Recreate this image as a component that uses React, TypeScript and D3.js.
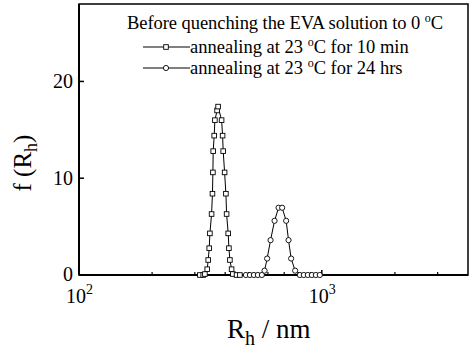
import React from "react";
import * as d3 from "d3";

// 10 min annealing (squares)
const squareR = [314.7, 324.8, 330, 337.3, 340.5, 343.8, 346, 351.6, 354.5, 356, 357, 360.4, 362.8, 370.4, 374, 386.6, 390.3, 392.5, 397.8, 402.7, 405.4, 411.6, 414.4, 418.3, 425, 430.2, 445.6, 459.8];
const squareF = [0, 0, 0.1, 0.6, 1.55, 2.77, 4.3, 6.3, 8.4, 10.6, 12.8, 14.4, 16.0, 17.0, 17.4, 16.0, 14.4, 12.8, 10.6, 8.4, 6.3, 4.3, 2.77, 1.55, 0.6, 0.1, 0, 0];

// 24 hrs annealing (circles)
const circleR = [486.7, 505.6, 525.1, 545.3, 566.4, 581, 595.5, 615, 638.8, 663.5, 686.5, 713, 729.4, 747.6, 776.4, 812, 843, 876, 910, 945, 981];
const circleF = [0, 0, 0, 0, 0, 0.45, 1.7, 3.6, 5.6, 6.95, 6.95, 5.6, 3.6, 1.7, 0.45, 0, 0, 0, 0, 0, 0];

const yTicks = [0, 10, 20];
const xMajor = [100, 1000];
const xMinor = [200, 300, 400, 500, 600, 700, 800, 900, 2000, 3000];

const FONT = "Liberation Serif, Times New Roman, serif";

export default function App() {
  const width = 474;
  const height = 353;
  const margin = { top: 4, right: 6, bottom: 78, left: 79 };

  const x = d3
    .scaleLog()
    .domain([100, 4000])
    .range([margin.left, width - margin.right]);
  const y = d3
    .scaleLinear()
    .domain([0, 28])
    .range([height - margin.bottom, margin.top]);

  const line = d3
    .line<[number, number]>()
    .x((d) => x(d[0]))
    .y((d) => y(d[1]));

  const squares: [number, number][] = squareR.map((r, i) => [r, squareF[i]]);
  const circles: [number, number][] = circleR.map((r, i) => [r, circleF[i]]);

  const x0 = margin.left;
  const x1 = width - margin.right;
  const y0 = height - margin.bottom;
  const y1 = margin.top;
  const txt = { fontFamily: FONT };

  return (
    <svg
      width={width}
      height={height}
      style={{ position: "absolute", left: 0, top: 0, background: "white", fontFamily: FONT }}
    >
      {/* frame */}
      <rect x={x0} y={y1} width={x1 - x0} height={y0 - y1} fill="none" stroke="black" strokeWidth={1.5} />
      <line x1={x0} x2={x1} y1={y0} y2={y0} stroke="black" strokeWidth={2} />
      <line x1={x0} x2={x0} y1={y1} y2={y0} stroke="black" strokeWidth={2} />

      {/* y ticks */}
      {yTicks.map((t) => (
        <g key={t}>
          {t > 0 && <line x1={x0} x2={x0 + 5} y1={y(t)} y2={y(t)} stroke="black" strokeWidth={1.5} />}
          <text style={txt} x={x0 - 6} y={t === 0 ? y(t) - 1 : y(t)} dy="0.34em" textAnchor="end" fontSize={20}>
            {t}
          </text>
        </g>
      ))}

      {/* x ticks */}
      {xMajor.map((t) => (
        <g key={t}>
          <line x1={x(t)} x2={x(t)} y1={y0} y2={y0 - 5} stroke="black" strokeWidth={1.5} />
          <text style={txt} x={x(t) - 13} y={y0 + 28} fontSize={20}>
            {`10`}
            <tspan dy={-9} fontSize={14}>
              {Math.round(Math.log10(t))}
            </tspan>
          </text>
        </g>
      ))}
      {xMinor.map((t) => (
        <line key={t} x1={x(t)} x2={x(t)} y1={y0} y2={y0 - 3} stroke="black" strokeWidth={1.2} />
      ))}

      {/* axis titles */}
      <text style={txt} x={227} y={338} fontSize={27}>
        R<tspan dy={7} fontSize={20}>h</tspan>
        <tspan dy={-7}> / nm</tspan>
      </text>
      <text style={txt} transform="translate(31,163) rotate(-90)" textAnchor="middle" fontSize={25}>
        f (R<tspan dy={6} fontSize={18}>h</tspan>
        <tspan dy={-6}>)</tspan>
      </text>

      {/* series */}
      <path d={line(squares) || ""} fill="none" stroke="black" strokeWidth={1} />
      <path d={line(circles) || ""} fill="none" stroke="black" strokeWidth={1} />
      {squares.map((d, i) => (
        <rect key={"s" + i} x={x(d[0]) - 2.3} y={y(d[1]) - 2.3} width={4.6} height={4.6} fill="white" stroke="black" strokeWidth={0.9} />
      ))}
      {circles.map((d, i) => (
        <circle key={"c" + i} cx={x(d[0])} cy={y(d[1])} r={2.6} fill="white" stroke="black" strokeWidth={0.9} />
      ))}

      {/* legend */}
      <text style={txt} x={127} y={29} fontSize={18.5} textLength={316}>
        Before quenching the EVA solution to 0 <tspan dy={-7} fontSize={12}>o</tspan>
        <tspan dy={7}>C</tspan>
      </text>
      <line x1={143} x2={190} y1={47} y2={47} stroke="black" strokeWidth={1} />
      <rect x={166 - 2.3} y={47 - 2.3} width={4.6} height={4.6} fill="white" stroke="black" strokeWidth={0.9} />
      <text style={txt} x={190} y={53} fontSize={18.5}>
        annealing at 23 <tspan dy={-7} fontSize={12}>o</tspan>
        <tspan dy={7}>C for 10 min</tspan>
      </text>
      <line x1={143} x2={190} y1={68} y2={68} stroke="black" strokeWidth={1} />
      <circle cx={166} cy={68} r={2.6} fill="white" stroke="black" strokeWidth={0.9} />
      <text style={txt} x={190} y={74} fontSize={18.5}>
        annealing at 23 <tspan dy={-7} fontSize={12}>o</tspan>
        <tspan dy={7}>C for 24 hrs</tspan>
      </text>
    </svg>
  );
}
